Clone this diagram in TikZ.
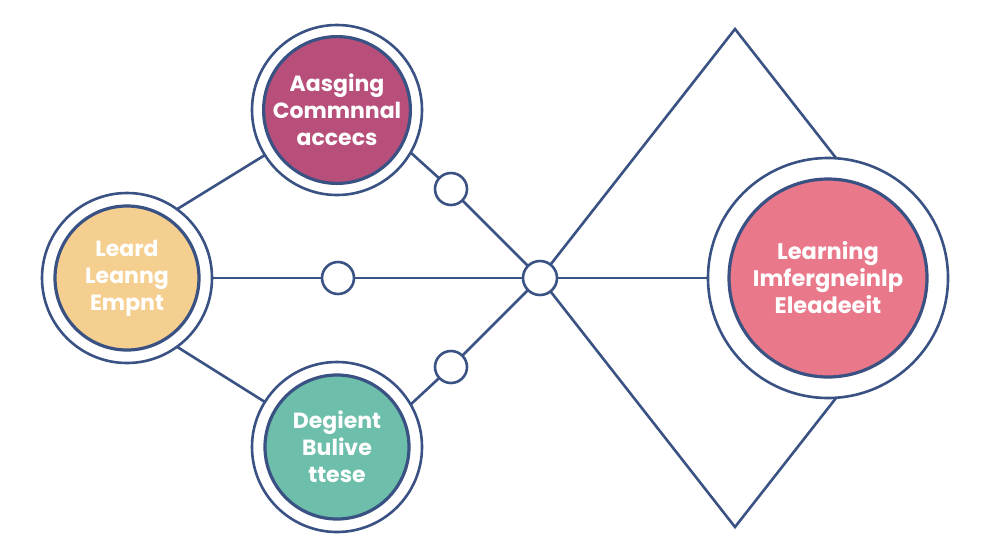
\documentclass[tikz,border=0pt]{standalone}
\usepackage{fontspec}
\setmainfont{Poppins}
\definecolor{navy}{HTML}{3A5283}
\definecolor{plum}{HTML}{B84F7B}
\definecolor{sand}{HTML}{F5CF90}
\definecolor{teal2}{HTML}{6DBEAB}
\definecolor{coral}{HTML}{E8788A}
\tikzset{
  conn/.style={draw=navy, line width=2.6pt},
  ring/.style={circle, draw=navy, line width=2.6pt, fill=white, inner sep=0pt, outer sep=0pt, minimum size=#1},
  disc/.style={circle, draw=navy, line width=3.2pt, inner sep=0pt, minimum size=#1, text=white,
    font=\fontsize{22}{27}\selectfont\bfseries, align=center},
  dot/.style={circle, draw=navy, line width=2.6pt, fill=white, inner sep=0pt, outer sep=0pt, minimum size=32pt},
}
\begin{document}
\begin{tikzpicture}[x=1pt,y=-1pt]
\useasboundingbox[fill=white] (0,0) rectangle (992,558);
% diamond (behind hub and right circle)
\coordinate (HC) at (540,278);
\coordinate (DT) at (735,29);
\coordinate (DR) at (930,278);
\coordinate (DB) at (735,527);
\draw[conn, line join=miter] (HC) -- (DT) -- (DR) -- (DB) -- cycle;
% main circles
\node[ring=170pt] (T) at (337,110) {};
\node[disc=144pt, fill=plum] (Ti) at (T) {Aasging\\Commnnal\\accecs};
\node[ring=170pt] (L) at (127,278) {};
\node[disc=144pt, fill=sand] (Li) at (L) {Leard\\Leanng\\Empnt};
\node[ring=170pt] (B) at (337,447) {};
\node[disc=144pt, fill=teal2] (Bi) at (B) {Degient\\Bulive\\ttese};
\node[ring=240pt] (R) at (828,278) {};
\node[disc=198pt, fill=coral, font=\fontsize{22.5}{27}\selectfont\bfseries] (Ri) at (R) {Learning\\Imfergneinlp\\Eleadeeit};
% small circles
\node[dot, minimum size=34pt] (H) at (HC) {};
\node[dot] (S1) at (451,189) {};
\node[dot] (S2) at (338,278) {};
\node[dot] (S3) at (451,367) {};
% connectors
\draw[conn] (L.54) -- (T.212);
\draw[conn] (L.-54) -- (B.148);
\draw[conn] (L) -- (S2);
\draw[conn] (S2) -- (H);
\draw[conn] (T.-30) -- (S1);
\draw[conn] (S1) -- (H);
\draw[conn] (B.30) -- (S3);
\draw[conn] (S3) -- (H);
\draw[conn] (H) -- (R);
\end{tikzpicture}
\end{document}
